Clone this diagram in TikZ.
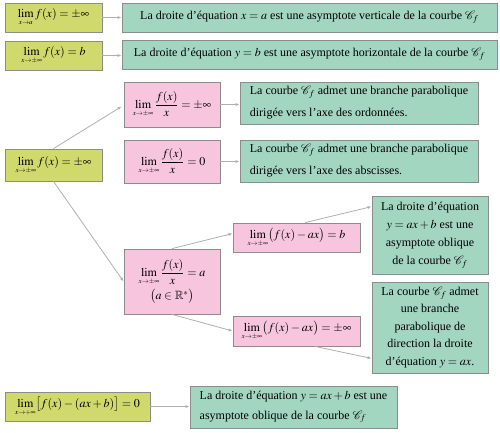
\documentclass[tikz,border=0pt]{standalone}
\usepackage{amssymb}
\usepackage{mathptmx}
\usepackage{mathrsfs}
\usepackage{fontspec}
\setmainfont{Liberation Serif}
\usetikzlibrary{arrows.meta,calc}
\definecolor{ybox}{RGB}{207,217,108}
\definecolor{gbox}{RGB}{163,214,192}
\definecolor{pbox}{RGB}{247,197,222}
\definecolor{bord}{RGB}{140,140,140}
\definecolor{conn}{RGB}{175,175,175}
\newcommand{\Cf}{\mathscr{C}_f}
\newcommand{\smsub}[1]{{\scriptscriptstyle #1}}
\tikzset{
  basebox/.style={draw=bord, line width=0.8pt, inner sep=2pt, font=\fontsize{12}{14}\selectfont},
  ylbox/.style={basebox, fill=ybox},
  gnbox/.style={basebox, fill=gbox},
  pkbox/.style={basebox, fill=pbox},
  conarrow/.style={draw=conn, line width=0.8pt, -{Latex[length=4pt,width=3pt]}}
}
\begin{document}
\begin{tikzpicture}[x=1pt,y=-1pt]
\useasboundingbox (0,0) rectangle (500,432);
% row 1
\node[ylbox, minimum width=97pt, minimum height=29pt] (y1) at (53.5,17.5)
  {$\lim\limits_{\smsub{x\to a}} f(x)=\pm\infty$};
\node[gnbox, minimum width=375pt, minimum height=29pt] (g1) at (309.5,17.5)
  {La droite d'équation $x=a$ est une asymptote verticale de la courbe $\Cf$};
% row 2
\node[ylbox, minimum width=97pt, minimum height=29pt] (y2) at (53.5,55.5)
  {$\lim\limits_{\smsub{x\to\pm\infty}} f(x)=b$};
\node[gnbox, minimum width=375pt, minimum height=29pt] (g2) at (309.5,54.5)
  {La droite d'équation $y=b$ est une asymptote horizontale de la courbe $\Cf$};
% left middle
\node[ylbox, minimum width=97pt, minimum height=32pt] (yL) at (53.5,165)
  {$\lim\limits_{\smsub{x\to\pm\infty}} f(x)=\pm\infty$};
\node[pkbox, minimum width=96pt, minimum height=45pt] (pA) at (172,104.5)
  {$\displaystyle\lim_{\smsub{x\to\pm\infty}}\frac{f(x)}{x}=\pm\infty$};
\node[gnbox, minimum width=238pt, minimum height=42pt, align=left,
  font=\fontsize{12}{22}\selectfont] (gA) at (359,103)
  {La courbe $\Cf$ admet une branche parabolique\\dirigée vers l'axe des ordonnées.};
\node[pkbox, minimum width=96pt, minimum height=43pt] (pB) at (172,161.5)
  {$\displaystyle\lim_{\smsub{x\to\pm\infty}}\frac{f(x)}{x}=0$};
\node[gnbox, minimum width=238pt, minimum height=42pt, align=left,
  font=\fontsize{12}{22}\selectfont] (gB) at (359,161)
  {La courbe $\Cf$ admet une branche parabolique\\dirigée vers l'axe des abscisses.};
\node[pkbox, minimum width=96pt, minimum height=65pt, align=center] (pC) at (172,281.5)
  {$\displaystyle\lim_{\smsub{x\to\pm\infty}}\frac{f(x)}{x}=a$\\[3pt]$\bigl(a\in\mathbb{R}^*\bigr)$};
\node[pkbox, minimum width=127pt, minimum height=29pt] (pD) at (296.5,237.5)
  {$\displaystyle\lim_{\smsub{x\to\pm\infty}}\bigl(f(x)-ax\bigr)=b$};
\node[gnbox, minimum width=116pt, minimum height=78pt, align=center,
  font=\fontsize{12}{18}\selectfont] (gE) at (430,235)
  {La droite d'équation\\$y=ax+b$ est une\\asymptote oblique\\de la courbe $\Cf$};
\node[pkbox, minimum width=127pt, minimum height=30pt] (pF) at (296.5,331)
  {$\displaystyle\lim_{\smsub{x\to\pm\infty}}\bigl(f(x)-ax\bigr)=\pm\infty$};
\node[gnbox, minimum width=116pt, minimum height=91pt, align=center,
  font=\fontsize{12}{17.5}\selectfont] (gG) at (430,327.5)
  {La courbe $\Cf$ admet\\une branche\\parabolique de\\direction la droite\\d'équation $y=ax$.};
% bottom
\node[ylbox, minimum width=145pt, minimum height=29pt] (yB) at (77.5,406.5)
  {$\lim\limits_{\smsub{x\to+\infty}}\bigl[f(x)-(ax+b)\bigr]=0$};
\node[gnbox, minimum width=207pt, minimum height=42pt, align=left,
  font=\fontsize{12}{19.5}\selectfont] (gH) at (293.5,407)
  {La droite d'équation $y=ax+b$ est une\\asymptote oblique de la courbe $\Cf$};
% connectors
\draw[conarrow] (y1.east) -- (y1.east -| g1.west);
\draw[conarrow] (y2.east) -- (y2.east -| g2.west);
\draw[conarrow] (yL.north) -- ($(pA.west)+(-2,2)$);
\draw[conarrow] (yL.south) -- (pC.west);
\draw[conarrow] (pA.east) -- (pA.east -| gA.west);
\draw[conarrow] (pB.east) -- (pB.east -| gB.west);
\draw[conarrow] (pC.north) -- ($(pD.west)+(0,-4)$);
\draw[conarrow] ($(pD.north)+(8.5,0)$) -- ($(gE.north west)+(0,11)$);
\draw[conarrow] (pC.south) -- (pF.west);
\draw[conarrow] ($(pF.south)+(18.5,0)$) -- ($(gG.south west)+(0,-15)$);
\draw[conarrow] (yB.east) -- (yB.east -| gH.west);
\end{tikzpicture}
\end{document}
